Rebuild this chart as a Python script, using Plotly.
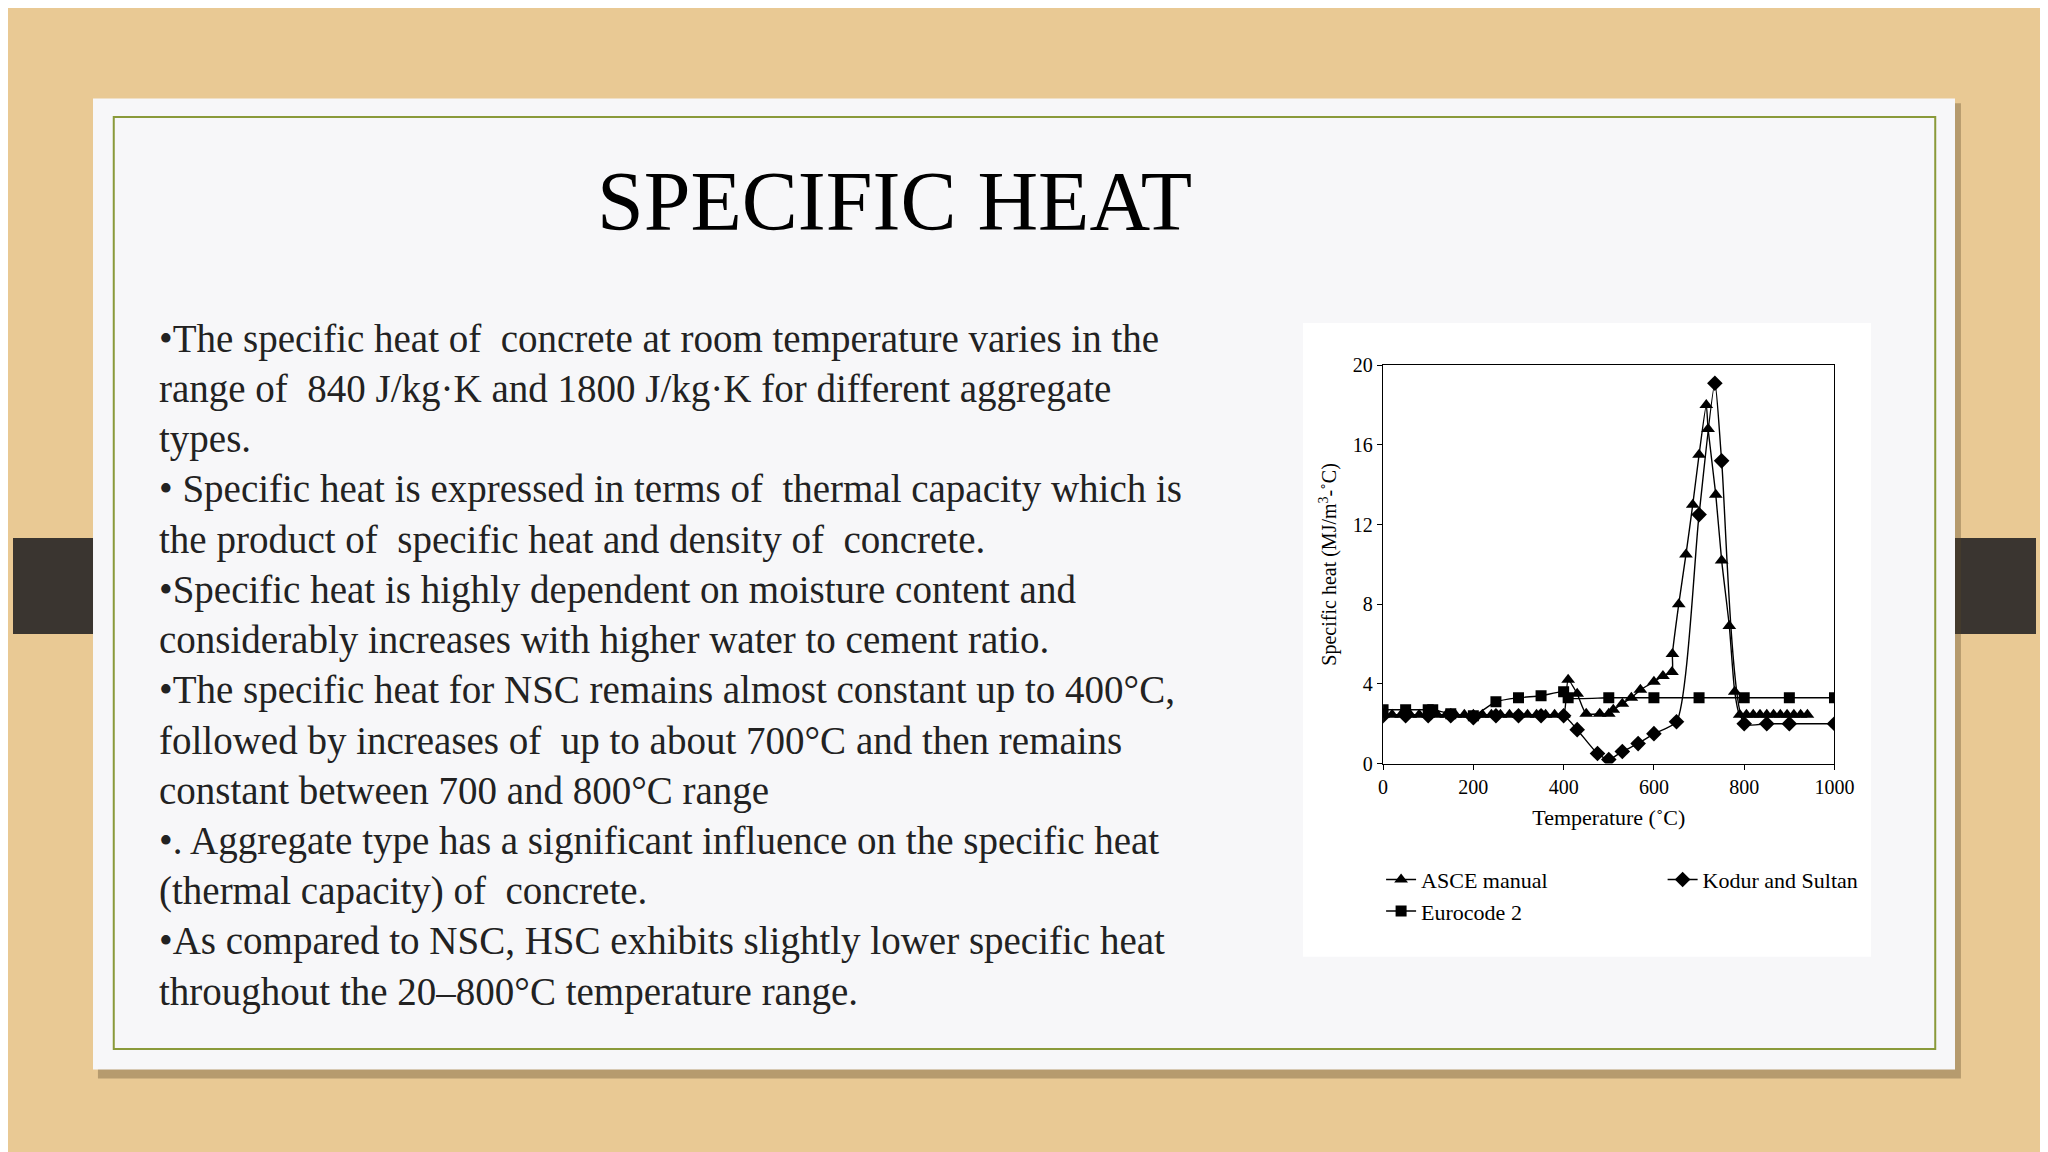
import plotly.graph_objects as go

# ---- chart data ----
asce_t = [0, 20, 40, 60, 80, 100, 120, 140, 160, 180, 200, 220, 240, 260, 280, 300, 320, 340, 360, 380, 400,
          410, 430, 450, 480, 500, 510, 530, 550, 570, 600, 620, 640, 641, 655, 671, 686, 700, 716, 720, 737, 750,
          767, 779, 790, 805, 820, 835, 850, 865, 880, 895, 910, 925, 940]
asce_c = [2.45] * 21 + [4.2, 3.5, 2.5, 2.5, 2.5, 2.7, 3.0, 3.3, 3.7, 4.1, 4.4, 4.6, 5.5, 8.0, 10.5, 13.0, 15.5,
                        18.0, 16.8, 13.5, 10.2, 6.9, 3.6] + [2.45] * 11
euro_t = [0, 50, 100, 110, 150, 200, 250, 300, 350, 400, 410, 500, 600, 700, 800, 900, 1000]
euro_c = [2.7, 2.7, 2.7, 2.7, 2.5, 2.4, 3.1, 3.3, 3.4, 3.6, 3.3, 3.3, 3.3, 3.3, 3.3, 3.3, 3.3]
kodur_t = [0, 50, 100, 150, 200, 250, 300, 350, 400, 430, 475, 500, 530, 565, 600, 650, 700, 735, 750, 800, 850, 900, 1000]
kodur_c = [2.4, 2.4, 2.4, 2.4, 2.3, 2.4, 2.4, 2.4, 2.4, 1.7, 0.5, 0.2, 0.6, 1.0, 1.5, 2.1, 12.5, 19.1, 15.2, 2.0, 2.0, 2.0, 2.0]

title = "SPECIFIC HEAT"
bullets = [
    "•The specific heat of  concrete at room temperature varies in the",
    "range of  840 J/kg·K and 1800 J/kg·K for different aggregate",
    "types.",
    "• Specific heat is expressed in terms of  thermal capacity which is",
    "the product of  specific heat and density of  concrete.",
    "•Specific heat is highly dependent on moisture content and",
    "considerably increases with higher water to cement ratio.",
    "•The specific heat for NSC remains almost constant up to 400°C,",
    "followed by increases of  up to about 700°C and then remains",
    "constant between 700 and 800°C range",
    "•. Aggregate type has a significant influence on the specific heat",
    "(thermal capacity) of  concrete.",
    "•As compared to NSC, HSC exhibits slightly lower specific heat",
    "throughout the 20–800°C temperature range.",
]

W, H = 2048, 1152
serif = "Liberation Serif"

fig = go.Figure()
line = dict(color="black", width=1.4, shape="spline", smoothing=0.6)
fig.add_trace(go.Scatter(x=asce_t, y=asce_c, name="ASCE manual", mode="lines+markers", line=line,
                         marker=dict(symbol="triangle-up", size=12, color="black"), legend="legend"))
fig.add_trace(go.Scatter(x=euro_t, y=euro_c, name="Eurocode 2", mode="lines+markers", line=line,
                         marker=dict(symbol="square", size=11, color="black"), legend="legend"))
fig.add_trace(go.Scatter(x=kodur_t, y=kodur_c, name="Kodur and Sultan", mode="lines+markers", line=line,
                         marker=dict(symbol="diamond", size=12, color="black"), legend="legend2"))

def px(x): return x / W
def py(y): return 1 - y / H

shapes = [
    # dark tabs
    dict(type="rect", xref="paper", yref="paper", x0=0, x1=px(127), y0=py(627), y1=py(529),
         fillcolor="#3a3530", line_width=0, layer="below"),
    dict(type="rect", xref="paper", yref="paper", x0=px(1920), x1=1, y0=py(627), y1=py(529),
         fillcolor="#3a3530", line_width=0, layer="below"),
    # card shadow and card
    dict(type="rect", xref="paper", yref="paper", x0=px(86), x1=px(1972), y0=py(1080), y1=py(86),
         fillcolor="rgba(90,70,40,0.35)", line_width=0, layer="below"),
    dict(type="rect", xref="paper", yref="paper", x0=px(81), x1=px(1966), y0=py(1071), y1=py(81),
         fillcolor="#f7f7f9", line_width=0, layer="below"),
    dict(type="rect", xref="paper", yref="paper", x0=px(102), x1=px(1946), y0=py(1050), y1=py(100),
         fillcolor="rgba(0,0,0,0)", line=dict(color="#8a9a3a", width=2), layer="below"),
    # white chart panel
    dict(type="rect", xref="paper", yref="paper", x0=px(1306), x1=px(1881), y0=py(956), y1=py(310),
         fillcolor="white", line_width=0, layer="below"),
]

annotations = [dict(text=title, x=px(892), y=py(186), xref="paper", yref="paper", showarrow=False,
                    font=dict(family=serif, size=84, color="black"), xanchor="center", yanchor="middle")]
for i, t in enumerate(bullets):
    annotations.append(dict(text=t, x=px(146), y=py(326 + i * 51.2), xref="paper", yref="paper",
                            showarrow=False, xanchor="left", yanchor="middle",
                            font=dict(family=serif, size=39, color="#222")))

axis_common = dict(showline=True, linecolor="black", linewidth=1.4, mirror=True, showgrid=False,
                   zeroline=False, ticks="outside", ticklen=5, tickcolor="black",
                   tickfont=dict(family=serif, size=20, color="black"))
fig.update_layout(
    width=W, height=H, margin=dict(l=0, r=0, t=0, b=0),
    paper_bgcolor="#e9c994", plot_bgcolor="white",
    shapes=shapes, annotations=annotations,
    xaxis=dict(domain=[px(1387), px(1844)], range=[0, 1000], dtick=200,
               title=dict(text="Temperature (˚C)", font=dict(family=serif, size=22, color="black"), standoff=12),
               **axis_common),
    yaxis=dict(domain=[py(759), py(353)], range=[0, 20], dtick=4,
               title=dict(text="Specific heat (MJ/m<sup>3</sup>-˚C)", font=dict(family=serif, size=20, color="black"),
                          standoff=10),
               **axis_common),
    legend=dict(x=px(1385), y=py(856), xanchor="left", yanchor="top", bgcolor="rgba(0,0,0,0)",
                font=dict(family=serif, size=22, color="black"), tracegroupgap=0, itemwidth=30),
    legend2=dict(x=px(1670), y=py(856), xanchor="left", yanchor="top", bgcolor="rgba(0,0,0,0)",
                 font=dict(family=serif, size=22, color="black"), itemwidth=30),
)

fig.write_html("out.html")
